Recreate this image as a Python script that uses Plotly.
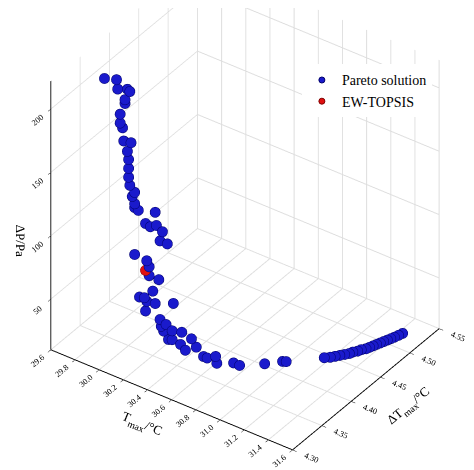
import plotly.graph_objects as go

# Pareto solution data
t_max = [29.80,29.90,29.91,29.99,30.01,29.97,29.97,29.93,29.93,29.95,29.96,30.02,29.99,30.00,30.00,30.00,30.01,30.03,30.05,30.05,30.05,30.08,30.14,30.18,30.22,30.23,30.28,30.26,30.32,30.05,30.15,30.17,30.17,30.25,30.20,30.09,30.13,30.15,30.22,30.14,30.37,
         30.26,30.27,30.31,30.29,30.36,30.33,30.36,30.44,30.52,30.43,30.47,30.56,30.62,30.65,30.72,30.73,30.82,30.87,30.98,31.08,31.11,
         31.26,31.29,31.31,31.33,31.35,31.37,31.38,31.40,31.41,31.43,31.44,31.45,31.46,31.47,31.48,31.49,31.50,31.51,31.52,31.53]
dt_max = [4.35,4.35,4.35,4.35,4.35,4.35,4.35,4.35,4.35,4.35,4.35,4.35,4.35,4.35,4.35,4.35,4.35,4.35,4.35,4.35,4.35,4.35,4.35,4.35,4.35,4.35,4.35,4.35,4.35,4.35,4.35,4.35,4.35,4.35,4.35,4.35,4.35,4.35,4.35,4.35,4.35,
          4.35,4.35,4.35,4.35,4.35,4.35,4.35,4.35,4.35,4.35,4.35,4.35,4.35,4.35,4.35,4.35,4.36,4.36,4.38,4.39,4.39,
          4.424,4.428,4.432,4.436,4.440,4.444,4.448,4.452,4.456,4.460,4.464,4.468,4.472,4.476,4.480,4.484,4.488,4.492,4.497,4.502]
dp = [213,216,209,212,211,203,200,190,183,180,170,171,163,157,150,143,137,129,133,124,121,120,112,111,124,114,111,103,103,84,83,79,72,72,61,52,53,51,52,43,58,
      41,36,39,33,36,28,29,38,36,28,25,31,26,26,30,25,25,25,23,25,26,
      22,22,22,22,22,22,22,22,22,22,22,22,22,22,22,22,22,22,22,22]
# EW-TOPSIS
t_best = [30.14]
dt_best = [4.35]
dp_best = [75]

fig = go.Figure()
fig.add_trace(go.Scatter3d(x=t_max, y=dt_max, z=dp, mode="markers", name="Pareto solution",
    marker=dict(size=6, color="#1a1acc", line=dict(color="#00006a", width=1))))
fig.add_trace(go.Scatter3d(x=t_best, y=dt_best, z=dp_best, mode="markers", name="EW-TOPSIS",
    marker=dict(size=6, color="#e01010", line=dict(color="#800000", width=1))))

ax = dict(showbackground=False, gridcolor="#dddddd", linecolor="black", linewidth=2,
          ticks="outside", tickcolor="black", tickfont=dict(family="Liberation Serif", size=10, color="black"),
          showspikes=False, zeroline=False)
fig.update_layout(
    width=474, height=470, margin=dict(l=0, r=0, t=0, b=0),
    paper_bgcolor="white",
    font=dict(family="Liberation Serif", color="black"),
    legend=dict(x=0.62, y=0.88, font=dict(size=14, family="Liberation Serif")),
    scene=dict(
        xaxis=dict(ax, title=dict(text="T<sub>max</sub>/°C", font=dict(size=13)), range=[29.6, 31.6], dtick=0.2, tickformat=".1f"),
        yaxis=dict(ax, title=dict(text="ΔT<sub>max</sub>/°C", font=dict(size=13)), range=[4.30, 4.55], dtick=0.05, tickformat=".2f"),
        zaxis=dict(ax, title=dict(text="ΔP/Pa", font=dict(size=13)), range=[10, 222], tickvals=[50, 100, 150, 200]),
        camera=dict(eye=dict(x=0.92, y=-1.30, z=0.95), center=dict(x=0, y=0, z=-0.2),
                    projection=dict(type="orthographic")),
        aspectmode="manual", aspectratio=dict(x=1.26, y=1.08, z=1.41),
    ),
)
fig.write_html("out.html")
